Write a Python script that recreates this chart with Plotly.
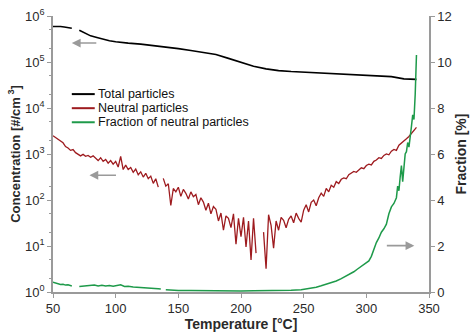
import plotly.graph_objects as go

# ---------------- data ----------------
total_temp = [50, 53, 56, 59, 62, 65, 68, 71, 74, 77, 80, 85, 90, 95, 100, 105, 110, 120, 130, 140,
              150, 160, 170, 180, 190, 200, 210, 220, 230, 240, 250, 260, 270, 280, 290, 300,
              310, 320, 330, 335, 340]
total_conc = [5.9e5, 6.0e5, 5.9e5, 5.75e5, 5.6e5, 5.4e5, None, 4.9e5, 4.4e5, 4.0e5, 3.7e5, 3.4e5,
              3.1e5, 2.9e5, 2.75e5, 2.63e5, 2.57e5, 2.45e5, 2.29e5, 2.14e5,
              1.95e5, 1.78e5, 1.62e5, 1.45e5, 1.2e5, 9.8e4, 8.1e4, 7.1e4, 6.5e4, 6.2e4, 6.0e4,
              5.9e4, 5.75e4, 5.5e4, 5.4e4, 5.1e4, 5.0e4, 4.8e4, 4.3e4, 4.2e4, 4.2e4]

neutral_temp = list(range(50, 342, 2))
neutral_conc = [2500, 2300, 2150, 1900, 1750, 1450, 1350, 1200, 1250, 1070,
                1000, 910, 980, 890, 930, 850, 910, 790, 720, 830,
                690, 760, 630, 720, 600, 690, 520, 890, 460, 575,
                460, 510, 400, 470, 355, 410, 315, 380, 290, 330,
                230, 290, 190, None, 295, 200, 225, 76, 178, 150,
                190, 120, 170, 140, 105, 150, 118, 132, 79, 112,
                90, 60, 85, 50, 72, 63, 35, 52, 22, 45,
                40, 25, 50, 11, 40, 16, 42, 9.5, 35, 5,
                40, 7, None, None, 20, 3.2, 48, 28, 9, 35,
                22, 42, 36, 25, 38, 45, 32, 52, 40, 33,
                60, 79, 55, 89, 100, 75, 112, 141, 120, 178,
                151, 209, 190, 251, 229, 282, 302, 290, 355, 380,
                417, 400, 457, 501, 480, 562, 603, 580, 692, 741,
                832, 800, 933, 1000, 960, 1148, 1259, 1200, 1549, 1698,
                1862, 2138, 2399, 2754, 3162, 3802]

fraction_temp = [50, 52, 54, 56, 58, 60, 62, 64, 65, 68, 71, 74, 77, 80, 83, 86, 89, 92, 95, 98,
                 101, 104, 107, 110, 114, 118, 122, 126, 130, 134, 136, 138, 140, 145, 150, 160,
                 170, 180, 190, 200, 210, 220, 230, 240, 248, 252, 256, 260, 264, 268, 272,
                 276, 280, 284, 287, 290, 293, 296, 299, 302, 304, 306, 308, 310, 312, 314,
                 316, 318, 320, 322, 324, 325, 326, 327, 328, 329, 330, 331, 332, 333, 334,
                 335, 336, 337, 338, 339, 340]
fraction_pct = [0.42, 0.38, 0.36, 0.33, 0.34, 0.30, 0.31, 0.27, 0.26, None, 0.24, 0.26, 0.28, 0.27,
                0.30, 0.26, 0.29, 0.26, 0.28, 0.25, 0.28, 0.31, 0.24, 0.25, 0.22, 0.21, 0.19,
                0.18, 0.16, 0.14, 0.13, None, 0.10, 0.08, 0.07, 0.06, 0.05, 0.05, 0.04, 0.04,
                0.05, 0.05, 0.06, 0.08, 0.10, 0.13, 0.17, 0.21, 0.27, 0.33, 0.40, 0.48, 0.58,
                0.70, 0.78, 0.88, 1.00, 1.12, 1.25, 1.35, 1.55, 1.85, 2.15, 2.35, 2.60, 2.75,
                2.95, 3.40, 3.70, 3.85, 4.10, 4.60, 4.40, 5.00, 5.50, 4.80, 5.30, 6.00, 6.10,
                6.50, 6.30, 6.90, 7.20, 7.70, 7.50, 8.60, 10.3]

series_names = ["Total particles", "Neutral particles", "Fraction of neutral particles"]
series_colors = ["#000000", "#9e1b1f", "#1e9a4a"]

left_tickvals = [1, 10, 100, 1000, 1e4, 1e5, 1e6]
left_ticktext = ["10<sup>%d</sup>" % i for i in range(7)]
x_ticks = [50, 100, 150, 200, 250, 300, 350]
right_ticks = [0, 2, 4, 6, 8, 10, 12]

# ---------------- figure ----------------
FONT = "Liberation Sans, Arial, sans-serif"
AX = "#9a9a9a"
TXT = "#2a2a2a"

fig = go.Figure()
fig.add_trace(go.Scatter(x=total_temp, y=total_conc, mode="lines", name=series_names[0],
                         line=dict(color=series_colors[0], width=1.6), connectgaps=False))
fig.add_trace(go.Scatter(x=neutral_temp, y=neutral_conc, mode="lines", name=series_names[1],
                         line=dict(color=series_colors[1], width=1.3), connectgaps=False))
fig.add_trace(go.Scatter(x=fraction_temp, y=fraction_pct, mode="lines", name=series_names[2],
                         line=dict(color=series_colors[2], width=1.5), yaxis="y2",
                         connectgaps=False))

fig.update_layout(
    width=474, height=336,
    margin=dict(l=53, r=41, t=7, b=43),
    paper_bgcolor="white", plot_bgcolor="white",
    showlegend=False,
    font=dict(family=FONT, size=13, color=TXT),
    xaxis=dict(range=[50, 350], tickvals=x_ticks, showgrid=False, zeroline=False,
               showline=True, linecolor=AX, linewidth=1.5, ticks="outside", ticklen=4,
               tickcolor=AX, tickfont=dict(size=13, color=TXT), ticklabeloverflow="allow",
               title=dict(text="<b>Temperature [°C]</b>", font=dict(size=14, color=TXT), standoff=3)),
    yaxis=dict(type="log", range=[0, 6], tickvals=left_tickvals, ticktext=left_ticktext,
               showgrid=False, zeroline=False, showline=True, linecolor=AX, linewidth=1.5,
               ticks="outside", ticklen=4, tickcolor=AX, tickfont=dict(size=13, color=TXT),
               ticklabeloverflow="allow",
               minor=dict(ticks="outside", ticklen=2, tickcolor=AX, showgrid=False),
               title=dict(text="<b>Concentration [#/cm<sup> 3</sup>]</b>",
                          font=dict(size=13, color=TXT), standoff=2)),
    yaxis2=dict(range=[0, 12], tickvals=right_ticks, overlaying="y", side="right",
                showgrid=False, zeroline=False, showline=True, linecolor=AX, linewidth=1.5,
                ticks="outside", ticklen=4, tickcolor=AX, tickfont=dict(size=13, color=TXT),
                ticklabeloverflow="allow",
                title=dict(text="<b>Fraction [%]</b>", font=dict(size=14, color=TXT), standoff=5)),
)

# manual legend (paper coordinates)
leg_y = [0.717, 0.666, 0.615]
for name, col, yy in zip(series_names, series_colors, leg_y):
    fig.add_shape(type="line", xref="paper", yref="paper", x0=0.05, x1=0.111, y0=yy, y1=yy,
                  line=dict(color=col, width=2))
    fig.add_annotation(xref="paper", yref="paper", x=0.117, y=yy, text=name, showarrow=False,
                       xanchor="left", yanchor="middle", borderpad=0,
                       font=dict(size=12.5, color="#111"))

# gray arrows indicating axes
arrows = [(0.05, 0.902, 26), (0.097, 0.423, 28), (0.961, 0.168, -29)]
for hx, hy, ax in arrows:
    fig.add_annotation(xref="paper", yref="paper", x=hx, y=hy, ax=ax, ay=0, text="",
                       showarrow=True, arrowhead=2, arrowsize=1.1, arrowwidth=1.6,
                       arrowcolor="#9a9a9a")

fig.write_html("out.html")
